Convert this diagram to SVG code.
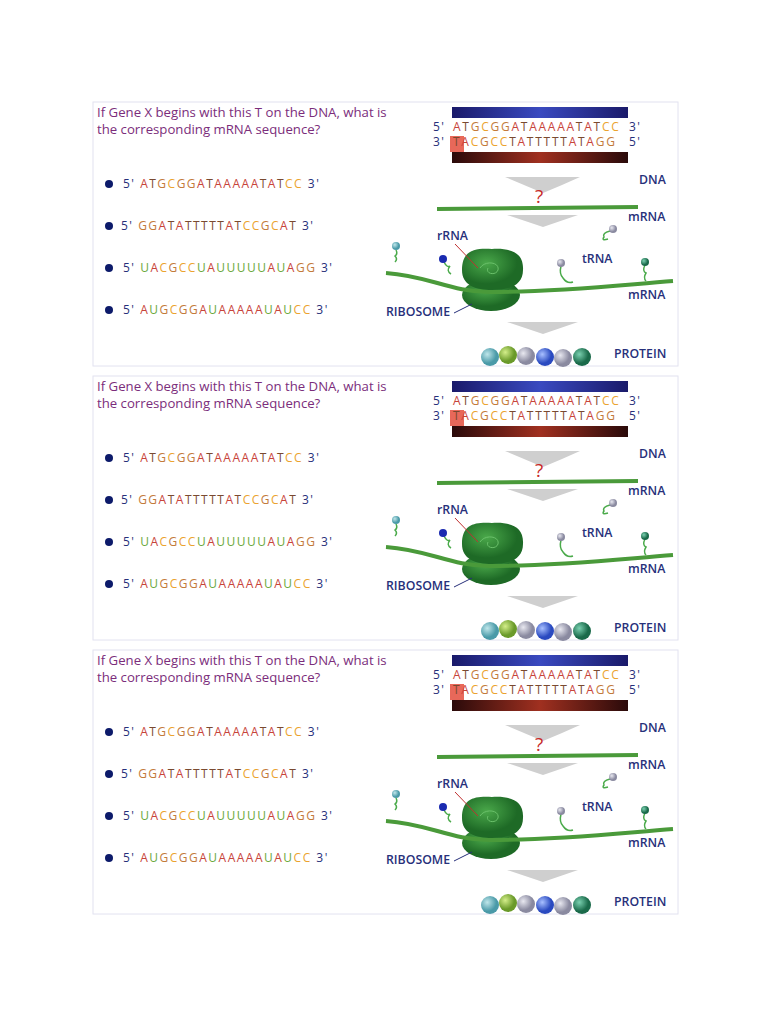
<svg xmlns="http://www.w3.org/2000/svg" width="768" height="1024" viewBox="0 0 768 1024">
<style>
text{font-family:"Open Sans","Liberation Sans",sans-serif}
.q{fill:#7b2d7b;font-size:13.2px}
.s{font-size:12px;letter-spacing:1.5px}
.d{letter-spacing:1.75px}
.n{fill:#27307a}
.l{fill:#27307a;font-size:12.3px;font-weight:600}
.A{fill:#c8443a}.T{fill:#7a4a30}.G{fill:#c37a3a}.C{fill:#eba32e}.U{fill:#6aa83a}
.arr{fill:#cfcfcf}
.g{fill:none;stroke:#4a9a3a;stroke-width:4}
</style>
<defs>
<linearGradient id="bl" x1="0" x2="1"><stop offset="0" stop-color="#1a1a6a"/><stop offset="0.5" stop-color="#3a4ac0"/><stop offset="1" stop-color="#1a1a6a"/></linearGradient>
<linearGradient id="rd" x1="0" x2="1"><stop offset="0" stop-color="#2a0a0a"/><stop offset="0.5" stop-color="#a03020"/><stop offset="1" stop-color="#2a0a0a"/></linearGradient>
<radialGradient id="rb" cx="0.4" cy="0.35"><stop offset="0" stop-color="#4aa84a"/><stop offset="1" stop-color="#1e6a26"/></radialGradient>
<radialGradient id="b1" cx="0.35" cy="0.35"><stop offset="0" stop-color="#bfe6ea"/><stop offset="1" stop-color="#4a9aa8"/></radialGradient>
<radialGradient id="b2" cx="0.35" cy="0.35"><stop offset="0" stop-color="#d4ee8a"/><stop offset="1" stop-color="#6a9a2a"/></radialGradient>
<radialGradient id="b3" cx="0.35" cy="0.35"><stop offset="0" stop-color="#e8e8f0"/><stop offset="1" stop-color="#8a8aa0"/></radialGradient>
<radialGradient id="b4" cx="0.35" cy="0.35"><stop offset="0" stop-color="#a8c0ff"/><stop offset="1" stop-color="#2a4ac0"/></radialGradient>
<radialGradient id="b6" cx="0.35" cy="0.35"><stop offset="0" stop-color="#7ad0b0"/><stop offset="1" stop-color="#1a6a4a"/></radialGradient>
<g id="panel">
<rect x="93" y="102" width="585" height="264" fill="#fff" stroke="#e2e2f0"/>
<text class="q" x="97" y="117">If Gene X begins with this T on the DNA, what is</text>
<text class="q" x="97" y="134">the corresponding mRNA sequence?</text>
<circle cx="109" cy="184" r="4" fill="#0c1a6a"/><circle cx="109" cy="226" r="4" fill="#0c1a6a"/><circle cx="109" cy="268" r="4" fill="#0c1a6a"/><circle cx="109" cy="310" r="4" fill="#0c1a6a"/>
<text class="s" x="123" y="188"><tspan class="n">5'</tspan> <tspan class="A">A</tspan><tspan class="T">T</tspan><tspan class="G">G</tspan><tspan class="C">C</tspan><tspan class="G">GG</tspan><tspan class="A">A</tspan><tspan class="T">T</tspan><tspan class="A">AAAAA</tspan><tspan class="T">T</tspan><tspan class="A">A</tspan><tspan class="T">T</tspan><tspan class="C">CC</tspan> <tspan class="n">3'</tspan></text>
<text class="s" x="121" y="230"><tspan class="n">5'</tspan> <tspan class="G">GG</tspan><tspan class="A">A</tspan><tspan class="T">T</tspan><tspan class="A">A</tspan><tspan class="T">TTTTT</tspan><tspan class="A">A</tspan><tspan class="T">T</tspan><tspan class="C">CC</tspan><tspan class="G">G</tspan><tspan class="C">C</tspan><tspan class="A">A</tspan><tspan class="T">T</tspan> <tspan class="n">3'</tspan></text>
<text class="s" x="123" y="272"><tspan class="n">5'</tspan> <tspan class="U">U</tspan><tspan class="A">A</tspan><tspan class="C">C</tspan><tspan class="G">G</tspan><tspan class="C">CC</tspan><tspan class="U">U</tspan><tspan class="A">A</tspan><tspan class="U">UUUUU</tspan><tspan class="A">A</tspan><tspan class="U">U</tspan><tspan class="A">A</tspan><tspan class="G">GG</tspan> <tspan class="n">3'</tspan></text>
<text class="s" x="123" y="314"><tspan class="n">5'</tspan> <tspan class="A">A</tspan><tspan class="U">U</tspan><tspan class="G">G</tspan><tspan class="C">C</tspan><tspan class="G">GG</tspan><tspan class="A">A</tspan><tspan class="U">U</tspan><tspan class="A">AAAAA</tspan><tspan class="U">U</tspan><tspan class="A">A</tspan><tspan class="U">U</tspan><tspan class="C">CC</tspan> <tspan class="n">3'</tspan></text>
<rect x="452" y="107" width="176" height="11" fill="url(#bl)"/>
<rect x="452" y="152" width="176" height="11" fill="url(#rd)"/>
<rect x="450" y="136" width="14" height="16" fill="#e8685a"/>
<text class="s n" x="433" y="131">5'</text><text class="s n" x="629" y="131">3'</text>
<text class="s n" x="433" y="146">3'</text><text class="s n" x="629" y="146">5'</text>
<text class="s d" x="453" y="131"><tspan class="A">A</tspan><tspan class="T">T</tspan><tspan class="G">G</tspan><tspan class="C">C</tspan><tspan class="G">GG</tspan><tspan class="A">A</tspan><tspan class="T">T</tspan><tspan class="A">AAAAA</tspan><tspan class="T">T</tspan><tspan class="A">A</tspan><tspan class="T">T</tspan><tspan class="C">CC</tspan></text>
<text class="s d" x="453" y="146"><tspan class="T">T</tspan><tspan class="A">A</tspan><tspan class="C">C</tspan><tspan class="G">G</tspan><tspan class="C">CC</tspan><tspan class="T">T</tspan><tspan class="A">A</tspan><tspan class="T">TTTTT</tspan><tspan class="A">A</tspan><tspan class="T">T</tspan><tspan class="A">A</tspan><tspan class="G">GG</tspan></text>
<polygon class="arr" points="505,177 580,177 562,185 543,193 524,185"/>
<polygon class="arr" points="507,215 578,215 543,227"/>
<polygon class="arr" points="507,322 578,322 543,334"/>
<text class="l" x="639" y="184">DNA</text>
<text x="535" y="203" fill="#c82a2a" font-size="19">?</text>
<path class="g" d="M437,209 L638,207"/>
<text class="l" x="628" y="221">mRNA</text>
<text class="l" x="437" y="240">rRNA</text>
<text class="l" x="582" y="263">tRNA</text>
<text class="l" x="628" y="299">mRNA</text>
<text class="l" x="386" y="316">RIBOSOME</text>
<ellipse cx="491" cy="295" rx="29" ry="16" fill="url(#rb)"/>
<path class="g" d="M386,273 C430,276 450,292 490,292 C560,292 620,285 673,281"/>
<path d="M462,270 C462,250 475,248 492,249 C510,248 524,252 523,270 C523,285 510,290 492,290 C475,290 462,285 462,270Z" fill="url(#rb)"/>
<path d="M480,268 C485,260 500,262 498,270 C496,276 485,274 488,268" fill="none" stroke="#6ac06a" stroke-width="1"/>
<line x1="455" y1="244" x2="478" y2="268" stroke="#c03030" stroke-width="1"/>
<line x1="454" y1="313" x2="472" y2="304" stroke="#27307a" stroke-width="1"/>
<g fill="none" stroke="#4aaa4a" stroke-width="1.5">
<path d="M396,250 q2,4 -1,6 q3,3 0,6"/><path d="M444,262 q3,6 6,4 q-4,5 1,8"/><path d="M561,266 q-2,8 2,12 q4,6 10,4"/><path d="M610,231 q-8,2 -6,6 q-3,4 4,2"/><path d="M645,265 q-3,6 1,8 q-3,5 0,8"/>
</g>
<circle cx="396" cy="246" r="4" fill="url(#b1)"/>
<circle cx="443" cy="259" r="4" fill="#1a2ab0"/>
<circle cx="561" cy="263" r="4" fill="url(#b3)"/>
<circle cx="613" cy="229" r="4" fill="url(#b3)"/>
<circle cx="645" cy="262" r="4" fill="url(#b6)"/>
<circle cx="490" cy="357" r="9" fill="url(#b1)"/><circle cx="508" cy="355" r="9" fill="url(#b2)"/><circle cx="526" cy="356" r="9" fill="url(#b3)"/><circle cx="545" cy="357" r="9" fill="url(#b4)"/><circle cx="563" cy="358" r="9" fill="url(#b3)"/><circle cx="582" cy="357" r="9" fill="url(#b6)"/>
<text class="l" x="614" y="358">PROTEIN</text>
</g>
</defs>
<rect width="768" height="1024" fill="#fff"/>
<g id="panel1"><use href="#panel"/></g>
<g id="panel2" transform="translate(0,274)"><use href="#panel"/></g>
<g id="panel3" transform="translate(0,548)"><use href="#panel"/></g>
</svg>
